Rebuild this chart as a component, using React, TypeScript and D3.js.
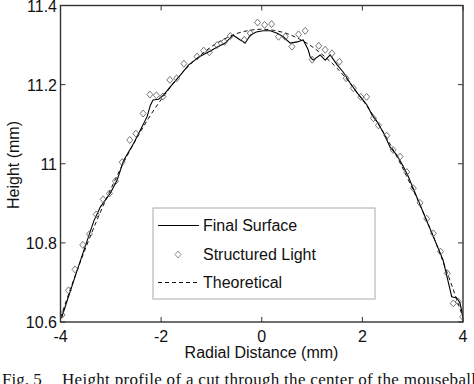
import React from "react";
import * as d3 from "d3";

// ---- data ----
const xTicks = [-4, -2, 0, 2, 4];
const yTicks = [10.6, 10.8, 11.0, 11.2, 11.4];
const yTickLabels = ["10.6", "10.8", "11", "11.2", "11.4"];

const theoX = [-4, -3.75, -3.5, -3.25, -3, -2.75, -2.5, -2.25, -2, -1.75, -1.5, -1.25, -1, -0.75, -0.5, -0.25, 0,
  0.25, 0.5, 0.75, 1, 1.25, 1.5, 1.75, 2, 2.25, 2.5, 2.75, 3, 3.25, 3.5, 3.75, 4];
const theoY = [10.611, 10.702, 10.787, 10.865, 10.936, 11.002, 11.061, 11.115, 11.162, 11.204, 11.241, 11.271, 11.296, 11.315, 11.329, 11.337, 11.340,
  11.337, 11.329, 11.315, 11.296, 11.271, 11.241, 11.204, 11.162, 11.115, 11.061, 11.002, 10.936, 10.865, 10.787, 10.702, 10.611];

const surfX = [-3.98, -3.668, -3.339, -3.206, -3.007, -2.874, -2.743, -2.545, -2.412, -2.279, -2.213, -2.16, -2.049, -1.949, -1.816, -1.618, -1.453,
  -1.221, -1.022, -0.883, -0.725, -0.625, -0.566, -0.427, -0.328, -0.228, -0.109, 0.03, 0.169, 0.308, 0.427, 0.566, 0.705, 0.824, 0.923, 0.963,
  1.022, 1.161, 1.261, 1.36, 1.499, 1.618, 1.757, 1.896, 2.015, 2.094, 2.194, 2.293, 2.432, 2.551, 2.684, 2.809, 2.908, 3.603, 3.776, 3.875, 3.94, 4.0];
const surfY = [10.61, 10.731, 10.855, 10.891, 10.926, 10.959, 11.009, 11.052, 11.085, 11.119, 11.148, 11.161, 11.163, 11.174, 11.195, 11.224, 11.25,
  11.272, 11.285, 11.295, 11.305, 11.318, 11.325, 11.313, 11.305, 11.325, 11.333, 11.336, 11.336, 11.33, 11.321, 11.305, 11.308, 11.313, 11.288, 11.27,
  11.262, 11.275, 11.262, 11.275, 11.25, 11.232, 11.204, 11.179, 11.161, 11.148, 11.123, 11.106, 11.075, 11.042, 11.022, 10.994, 10.969, 10.757, 10.664, 10.661, 10.648, 10.613];

const lightX = [-3.97, -3.841, -3.712, -3.557, -3.424, -3.289, -3.152, -3.027, -2.908, -2.775, -2.624, -2.501, -2.358, -2.223, -2.094, -1.965,
  -1.826, -1.691, -1.548, -1.286, -1.155, -1.042, -0.889, -0.744, -0.625, -0.347, -0.228, -0.083, 0.056, 0.195, 0.333, 0.466, 0.6, 0.731, 0.864,
  1.002, 1.132, 1.261, 1.394, 1.544, 1.677, 1.822, 1.969, 2.084, 2.219, 2.319, 2.485, 2.61, 2.749, 2.882, 3.013, 3.146, 3.279, 3.41, 3.553,
  3.688, 3.807, 3.907, 3.994];
const lightY = [10.618, 10.68, 10.733, 10.795, 10.822, 10.872, 10.91, 10.925, 10.956, 11.004, 11.06, 11.076, 11.127, 11.175, 11.173, 11.17,
  11.212, 11.216, 11.253, 11.271, 11.286, 11.282, 11.3, 11.308, 11.323, 11.313, 11.33, 11.357, 11.351, 11.353, 11.321, 11.321, 11.296, 11.327, 11.336,
  11.263, 11.298, 11.288, 11.279, 11.258, 11.216, 11.191, 11.169, 11.169, 11.115, 11.097, 11.071, 11.035, 11.018, 10.979, 10.938, 10.901, 10.861, 10.824, 10.778,
  10.723, 10.647, 10.651, 10.613];

const legendLabels = ["Final Surface", "Structured Light", "Theoretical"];
const xLabel = "Radial Distance (mm)";
const yLabel = "Height (mm)";
const captionHead = "Fig. 5";
const captionBody = "Height profile of a cut through the center of the mouseball";

export default function App() {
  const W = 474, H = 384;
  const x = d3.scaleLinear().domain([-4, 4]).range([60.5, 463]);
  const y = d3.scaleLinear().domain([10.6, 11.4]).range([322, 5.5]);
  const L = x.range()[0], R = x.range()[1], T = y.range()[1], B = y.range()[0];

  const line = d3.line<[number, number]>().x(d => x(d[0])).y(d => y(d[1]));
  const theoPath = d3.line<[number, number]>().x(d => x(d[0])).y(d => y(d[1])).curve(d3.curveNatural)(
    theoX.map((v, i) => [v, theoY[i]] as [number, number]))!;
  const surfPath = line(surfX.map((v, i) => [v, surfY[i]] as [number, number]))!;
  const diamond = "M0,-3.5L3,0L0,3.5L-3,0Z";
  const font = "Arial, 'Liberation Sans', sans-serif";
  const axisColor = "#333";
  const tick = 5;

  return (
    <svg width={W} height={H} style={{ position: "absolute", left: 0, top: 0, background: "#fff" }}
      xmlns="http://www.w3.org/2000/svg">
      <rect x={0} y={0} width={W} height={H} fill="#fff" />
      <defs>
        <clipPath id="plotclip"><rect x={L} y={T - 2} width={R - L} height={B - T + 4} /></clipPath>
      </defs>
      {/* data */}
      <g clipPath="url(#plotclip)">
        <path d={theoPath} fill="none" stroke="#111" strokeWidth={1} strokeDasharray="4,3" />
        <path d={surfPath} fill="none" stroke="#000" strokeWidth={1.1} />
        {lightX.map((v, i) => (
          <path key={i} d={diamond} transform={`translate(${x(v)},${y(lightY[i])})`} fill="none" stroke="#555" strokeWidth={0.8} />
        ))}
      </g>
      {/* frame */}
      <rect x={L} y={T} width={R - L} height={B - T} fill="none" stroke={axisColor} strokeWidth={1.4} />
      {xTicks.map(t => (
        <g key={"xt" + t}>
          <line x1={x(t)} x2={x(t)} y1={B} y2={B - tick} stroke={axisColor} strokeWidth={1} />
          <line x1={x(t)} x2={x(t)} y1={T} y2={T + tick} stroke={axisColor} strokeWidth={1} />
          <text x={x(t)} y={342} textAnchor="middle" fontFamily={font} fontSize={16} fill="#111">{t}</text>
        </g>
      ))}
      {yTicks.map((t, i) => (
        <g key={"yt" + t}>
          <line x1={L} x2={L + tick} y1={y(t)} y2={y(t)} stroke={axisColor} strokeWidth={1} />
          <line x1={R} x2={R - tick} y1={y(t)} y2={y(t)} stroke={axisColor} strokeWidth={1} />
          <text x={57} y={y(t) + 6} textAnchor="end" fontFamily={font} fontSize={16} fill="#111">{yTickLabels[i]}</text>
        </g>
      ))}
      <text x={261.5} y={358} textAnchor="middle" fontFamily={font} fontSize={16} fill="#111">{xLabel}</text>
      <text transform="translate(18.5,165) rotate(-90)" textAnchor="middle" fontFamily={font} fontSize={16} fill="#111">{yLabel}</text>
      {/* legend */}
      <g>
        <rect x={153} y={208} width={222} height={91} fill="#fff" stroke="#aaa" strokeWidth={1} />
        <line x1={158} x2={199} y1={225.5} y2={225.5} stroke="#000" strokeWidth={1.1} />
        <path d={diamond} transform="translate(178,254.5)" fill="none" stroke="#666" strokeWidth={0.7} />
        <line x1={158} x2={199} y1={282.5} y2={282.5} stroke="#111" strokeWidth={1} strokeDasharray="4,3" />
        {legendLabels.map((s, i) => (
          <text key={s} x={203} y={[231, 260, 288][i]} fontFamily={font} fontSize={16} fill="#111">{s}</text>
        ))}
      </g>
      {/* caption */}
      <text x={2} y={385} fontFamily="'Liberation Serif', 'DejaVu Serif', serif" fontSize={17} fill="#111">{captionHead}</text>
      <text x={62} y={385} fontFamily="'Liberation Serif', 'DejaVu Serif', serif" fontSize={17} fill="#111"
        textLength={414} lengthAdjust="spacing">{captionBody}</text>
    </svg>
  );
}
